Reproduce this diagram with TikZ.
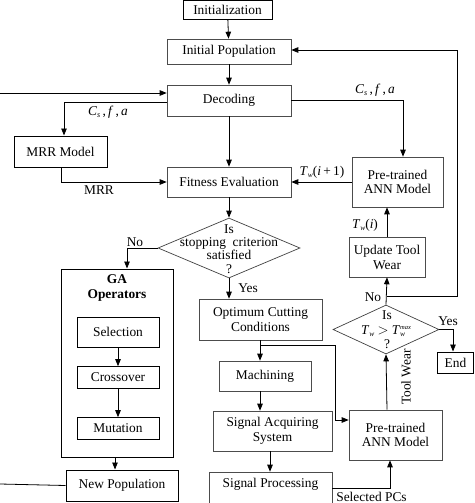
\documentclass[tikz,border=0pt]{standalone}
\usepackage{fontspec}
\setmainfont{Liberation Serif}
\usetikzlibrary{arrows.meta,shapes.geometric}
\newcommand\subw{\raisebox{-2.6pt}{\fontsize{7.5}{7.5}\selectfont\textit{w}}}
\newcommand\Twx{\textit{T}\subw}
\newcommand\Twmax{\textit{T}\makebox[0pt][l]{\subw}\raisebox{4.5pt}{\fontsize{6.5}{7}\selectfont\textit{max}}}
\newcommand\Csfa{\textit{C}\raisebox{-2.6pt}{\fontsize{8}{8}\selectfont\textit{s}}\,,\,\textit{f}\,,\,\textit{a}}
\begin{document}
\begin{tikzpicture}[x=1pt,y=-1pt,
  font=\fontsize{13.4}{14}\selectfont,
  box/.style={draw=black!70, line width=0.6pt, inner sep=0pt, align=center},
  dbox/.style={draw=black, line width=1pt, inner sep=0pt, align=center},
  dia/.style={diamond, draw=black!75, line width=0.7pt, inner sep=0pt},
  arr/.style={-{Triangle[length=7pt,width=5.5pt]}, line width=0.8pt},
  ln/.style={line width=0.8pt},
  lab/.style={inner sep=0pt}]
\useasboundingbox (0,0) rectangle (474,503);
\clip (0,0) rectangle (474,503);

% nodes
\node[dbox, minimum width=89pt, minimum height=19pt] (init) at (227.5,10) {Initialization};
\node[box, minimum width=124pt, minimum height=25pt] (initpop) at (229,51.5) {Initial Population};
\node[box, minimum width=124pt, minimum height=31pt] (decod) at (229,100.5) {Decoding};
\node[dbox, minimum width=93pt, minimum height=31pt] (mrr) at (60.5,151.5) {MRR Model};
\node[box, minimum width=124pt, minimum height=30pt] (fit) at (229,182) {Fitness Evaluation};
\node[box, minimum width=91pt, minimum height=50pt, font=\fontsize{13.4}{14.5}\selectfont] (ann1) at (397.5,182) {Pre-trained\\ANN Model};

\node[dia, minimum width=142pt, minimum height=60pt] (d1) at (229,248) {};
\node[lab, align=center, font=\fontsize{13.4}{13.3}\selectfont] (d1t) at (229,249) {Is\\stopping\ \ criterion\\satisfied\\?};

\node[dbox, minimum width=112pt, minimum height=188pt] (ga) at (117,363) {};
\node[lab, align=center, font=\bfseries\fontsize{13.4}{15}\selectfont] (gat) at (117,287.5) {GA\\Operators};
\node[dbox, minimum width=82pt, minimum height=30pt] (sel) at (118,332) {Selection};
\node[dbox, minimum width=82pt, minimum height=21.6pt] (cross) at (118,377.5) {Crossover};
\node[dbox, minimum width=82pt, minimum height=21.6pt] (mut) at (118,428.5) {Mutation};
\node[dbox, minimum width=112pt, minimum height=31pt] (newpop) at (122,485.5) {New Population};

\node[box, minimum width=123pt, minimum height=41pt, font=\fontsize{13.4}{14.5}\selectfont] (opt) at (260.5,319.5) {Optimum Cutting\\Conditions};
\node[box, minimum width=92pt, minimum height=30pt] (mach) at (265,376) {Machining};
\node[box, minimum width=119pt, minimum height=40pt, font=\fontsize{13.4}{15}\selectfont] (sas) at (272.5,431) {Signal Acquiring\\System};
\node[box, minimum width=123pt, minimum height=42pt, font=\fontsize{13.4}{15}\selectfont] (sp) at (270.5,493) {Signal Processing\\\strut};
\node[box, minimum width=93pt, minimum height=50pt, font=\fontsize{13.4}{14.5}\selectfont] (ann2) at (395.5,435) {Pre-trained\\ANN Model};

\node[dia, minimum width=106pt, minimum height=49pt] (d2) at (386,329.5) {};
\node[lab] (d2a) at (387,315.5) {Is};
\node[lab] (d2b) at (386,331) {\Twx\ $>$ \Twmax};
\node[lab] (d2c) at (387,344) {?};

\node[box, minimum width=76pt, minimum height=40pt, font=\fontsize{13.4}{15}\selectfont] (upd) at (387,257) {Update Tool\\Wear};
\node[dbox, minimum width=36pt, minimum height=21pt] (endn) at (455.5,362.5) {End};

% coordinates
\coordinate (lt) at (0,93);
\coordinate (lb) at (0,484);
\coordinate (br) at (260,345);
\coordinate (jn) at (387,296);
\coordinate (rt) at (457,50);

% connectors
\draw[arr] (init) -- (initpop);
\draw[arr] (initpop) -- (decod);
\draw[arr] (decod) -- (fit);
\draw[arr] (fit) -- (d1);
\draw[arr] (lt) -- (lt -| decod.west);
\draw[arr] ([yshift=-1.5pt]decod.west) -| ([xshift=3.5pt]mrr.north);
\draw[arr] ([xshift=0.5pt]mrr.south) |- (fit.west);
\draw[arr] ([yshift=0.5pt]decod.east) -| ([xshift=5.5pt]ann1.north);
\draw[arr] (ann1.west) -- (fit.east);
\draw[arr] (d1.west) -| ([xshift=10pt]ga.north);
\draw[arr] (d1.south) -- (d1.south |- opt.north);
\draw[arr] (sel) -- (cross);
\draw[arr] (cross) -- (mut);
\draw[arr] ([xshift=-2pt]ga.south) -- ([xshift=-2pt]ga.south |- newpop.north);
\draw[ln] (newpop.west) -- (lb);
\draw[arr] (br |- opt.south) -- (br |- mach.north);
\draw[arr] (br) -| (335,420) -- (ann2.west |- 0,420);
\draw[arr] (br |- mach.south) -- (br |- sas.north);
\draw[arr] ([xshift=-2.5pt]sas.south) -- ([xshift=-2.5pt]sas.south |- sp.north);
\draw[arr] (sp.east |- 0,488) -| ([xshift=-5.5pt]ann2.south);
\draw[arr] ([xshift=-8.5pt]ann2.north) -- (d2.south);
\draw[arr] (d2.north) -- (upd.south);
\draw[arr] (jn) -| (rt) -- (rt -| initpop.east);
\draw[arr] (upd.north) -- (upd.north |- ann1.south);
\draw[arr] (d2.east) -| ([xshift=-2.5pt]endn.north);

% labels
\node[lab] (l1) at (108,112) {\Csfa};
\node[lab] (l2) at (375,90) {\Csfa};
\node[lab] (l3) at (99,190) {MRR};
\node[lab] (l4) at (322,172) {\Twx(\textit{i}\,+\,1)};
\node[lab] (l5) at (135,242) {No};
\node[lab] (l6) at (248,288) {Yes};
\node[lab] (l7) at (365,225) {\Twx(\textit{i})};
\node[lab] (l8) at (373,297) {No};
\node[lab] (l9) at (448,321) {Yes};
\node[lab, rotate=90] (l10) at (406,377) {Tool Wear};
\node[lab] (l11) at (371.5,497) {Selected PCs};
\end{tikzpicture}
\end{document}
